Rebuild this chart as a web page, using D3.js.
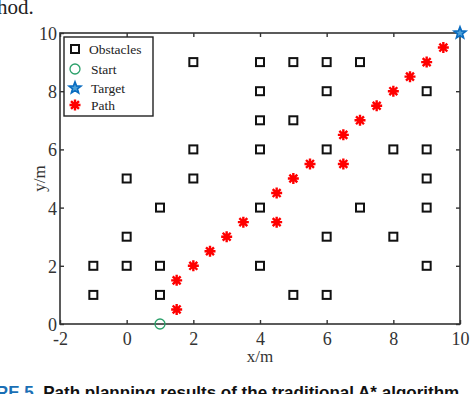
<!DOCTYPE html>
<html><head><meta charset="utf-8">
<script src="https://cdn.jsdelivr.net/npm/d3@7"></script>
<style>body{margin:0;background:#fff}svg{display:block}</style>
</head><body>
<svg id="c" width="474" height="394"></svg>
<script>
const xTicks = [-2, 0, 2, 4, 6, 8, 10];
const yTicks = [0, 2, 4, 6, 8, 10];
const obstacleX = [2,4,5,6,7, 4,6,9, 4,5, 2,4,6,8,9, 0,2,9, 1,4,7,9, 0,6,8, -1,0,1,4,9, -1,1,5,6];
const obstacleY = [9,9,9,9,9, 8,8,8, 7,7, 6,6,6,6,6, 5,5,5, 4,4,4,4, 3,3,3, 2,2,2,2,2, 1,1,1,1];
const startPt = [1, 0];
const targetPt = [10, 10];
const pathX = [1.5,1.5,2,2.5,3,3.5,4.5,4.5,5,5.5,6.5,6.5,7,7.5,8,8.5,9,9.5];
const pathY = [0.5,1.5,2,2.5,3,3.5,3.5,4.5,5,5.5,5.5,6.5,7,7.5,8,8.5,9,9.5];
const legendLabels = ["Obstacles","Start","Target","Path"];

const svg = d3.select("#c");
const L=60, R=460, T=33, B=324;
const x = d3.scaleLinear().domain([-2,10]).range([L,R]);
const y = d3.scaleLinear().domain([0,10]).range([B,T]);
const axisCol = "#333";
const serif = "'Liberation Serif','Times New Roman',serif";

// top partial text
svg.append("text").attr("x",-3).attr("y",14).attr("font-family",serif).attr("font-size",21).attr("fill","#222").text("hod.");

// axes
const g = svg.append("g");
g.append("rect").attr("x",L).attr("y",T).attr("width",R-L).attr("height",B-T).attr("fill","none").attr("stroke",axisCol).attr("stroke-width",1.6);
const fmt = d => String(d);
const xb = g.append("g").attr("transform",`translate(0,${B})`).call(d3.axisBottom(x).tickValues(xTicks).tickSize(-4).tickPadding(8).tickFormat(fmt));
const xt = g.append("g").attr("transform",`translate(0,${T})`).call(d3.axisTop(x).tickValues(xTicks).tickSize(-4).tickFormat(""));
const yl = g.append("g").attr("transform",`translate(${L},0)`).call(d3.axisLeft(y).tickValues(yTicks).tickSize(-4).tickPadding(3).tickFormat(fmt));
const yr = g.append("g").attr("transform",`translate(${R},0)`).call(d3.axisRight(y).tickValues(yTicks).tickSize(-4).tickFormat(""));
[xb,xt,yl,yr].forEach(a=>{
  a.select(".domain").remove();
  a.selectAll(".tick line").attr("stroke",axisCol).attr("stroke-width",1.4);
  a.selectAll("text").attr("font-family",serif).attr("font-size",18).attr("fill","#333");
});
xb.selectAll("text").attr("dy","0.72em");
yl.selectAll("text").attr("dy","0.36em");

svg.append("text").attr("x",x(4)).attr("y",362).attr("text-anchor","middle").attr("font-family",serif).attr("font-size",17).attr("fill","#333").text("x/m");
svg.append("text").attr("transform",`translate(45,${y(5)}) rotate(-90)`).attr("text-anchor","middle").attr("font-family",serif).attr("font-size",17).attr("fill","#333").text("y/m");

// markers
function square(gg, cx, cy){ gg.append("rect").attr("x",cx-4).attr("y",cy-4).attr("width",8).attr("height",8).attr("fill","none").attr("stroke","#111").attr("stroke-width",2); }
function circle(gg, cx, cy){ gg.append("circle").attr("cx",cx).attr("cy",cy).attr("r",5).attr("fill","none").attr("stroke","#2aa06a").attr("stroke-width",1.3); }
function asterisk(gg, cx, cy){
  const r=5.5, d=r*0.72;
  gg.append("path").attr("d",`M${cx},${cy-r}V${cy+r}M${cx-r},${cy}H${cx+r}M${cx-d},${cy-d}L${cx+d},${cy+d}M${cx-d},${cy+d}L${cx+d},${cy-d}`)
    .attr("stroke","#ff0000").attr("stroke-width",2.4).attr("fill","none");
}
function star(gg, cx, cy){
  const pts=[]; for(let i=0;i<10;i++){const a=-Math.PI/2+i*Math.PI/5; const rr=i%2?2.6:6.2; pts.push([cx+rr*Math.cos(a),cy+rr*Math.sin(a)]);}
  gg.append("path").attr("d","M"+pts.join("L")+"Z").attr("fill","#4da0d8").attr("stroke","#0a6cc0").attr("stroke-width",1.6);
}
const m = svg.append("g");
obstacleX.forEach((v,i)=>square(m,x(v),y(obstacleY[i])));
pathX.forEach((v,i)=>asterisk(m,x(v),y(pathY[i])));
circle(m,x(startPt[0]),y(startPt[1]));
star(m,x(targetPt[0]),y(targetPt[1]));

// legend
const lg = svg.append("g");
lg.append("rect").attr("x",64).attr("y",37).attr("width",89).attr("height",79).attr("fill","#fff").attr("stroke","#222").attr("stroke-width",1.4);
const ly=[49,69,88,105];
square(lg,75,ly[0]); circle(lg,75,ly[1]); star(lg,75,ly[2]); asterisk(lg,75,ly[3]);
legendLabels.forEach((t,i)=>lg.append("text").attr("x",i==0?89:91).attr("y",ly[i]).attr("dy","0.35em").attr("font-family",serif).attr("font-size",13.5).attr("fill","#222").text(t));

// caption
const cap = svg.append("text").attr("x",-4).attr("y",398).attr("font-family","'Liberation Sans',Arial,sans-serif").attr("font-size",17).attr("font-weight","bold");
cap.append("tspan").attr("fill","#1a6fb5").text("RE 5. ");
cap.append("tspan").attr("fill","#111").text("Path planning results of the traditional A* algorithm");
</script>
</body></html>
